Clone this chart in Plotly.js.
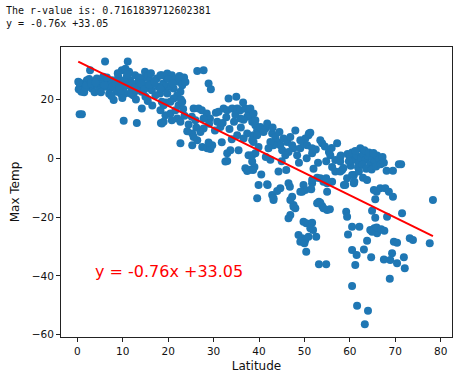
<!DOCTYPE html>
<html>
<head>
<meta charset="utf-8">
<script src="https://cdn.plot.ly/plotly-3.0.1.min.js"></script>
<style>
  html, body { margin: 0; padding: 0; background: #fff; }
  #chart { width: 474px; height: 379px; }
</style>
</head>
<body>
<div id="chart"></div>
<script>
// ---- data ----
const latitude = [
  // lat 0-20
  0.3,0.6,0.9,0.2,0.5,1.0,1.3,2.1,2.4,2.8,3.2,3.5,4.3,4.6,5.0,5.4,5.7,6.1,6.1,6.8,
  7.2,7.6,8.0,8.3,8.7,9.0,9.4,9.8,10.1,10.2,10.5,10.9,11.1,11.2,11.6,11.9,12.3,12.7,13.1,13.4,
  13.8,14.2,14.2,14.5,14.9,15.3,15.6,16.0,16.4,16.5,16.7,17.5,17.8,18.2,18.4,18.6,18.9,19.3,19.5,19.7,
  0.4,0.8,1.5,1.8,2.0,2.6,3.0,3.8,4.0,4.8,5.2,5.9,6.5,7.0,7.8,8.5,9.2,9.6,10.3,10.8,
  11.4,11.8,12.0,12.5,13.0,13.6,14.0,14.8,15.0,15.8,16.2,17.0,17.2,10.6,11.0,9.9,7.5,12.9,15.5,8.9,
  // lat 18-24
  18.3,19.8,20.8,21.6,22.3,23.1,22.7,22.0,21.2,20.5,19.0,18.3,19.4,20.5,21.6,22.3,23.1,21.2,20.1,19.0,
  18.3,19.8,18.6,22.0,22.7,20.8,19.0,18.6,20.0,21.0,22.5,23.5,23.8,22.8,23.3,23.6,
  // lat 22-31
  26.4,27.8,28.9,29.4,33.3,35.0,22.7,25.3,26.4,25.3,25.6,27.5,28.6,29.3,29.7,28.9,27.8,27.1,31.5,33.0,
  25.6,26.7,27.4,28.5,29.2,25.2,26.0,27.8,24.5,26.2,29.0,30.3,30.8,24.2,
  // lat 30-40
  31.1,32.2,33.0,34.1,35.2,35.9,37.0,37.7,38.1,37.4,36.6,35.9,38.5,39.2,39.6,38.8,38.5,37.4,36.6,35.2,
  35.5,33.7,32.6,33.0,37.7,38.5,38.1,37.0,37.4,32.0,33.5,34.5,34.0,36.0,31.8,34.8,36.5,32.8,30.5,
  // lat 38-58
  38.1,39.2,38.8,40.3,41.4,41.8,41.0,39.6,38.8,39.9,39.2,38.5,42.9,43.6,44.0,44.7,45.1,43.2,42.5,42.1,
  45.4,46.2,46.9,47.3,47.6,46.5,45.8,48.4,49.1,49.8,50.6,50.9,50.2,49.1,51.7,51.7,53.5,53.9,55.4,55.7,
  57.2,57.9,56.8,39.0,39.9,41.8,44.3,44.7,46.5,46.8,39.6,42.9,44.0,43.2,47.3,47.6,48.0,46.9,49.8,50.2,
  49.5,51.7,52.8,53.5,54.2,55.0,57.9,58.3,59.4,58.7,56.1,56.8,51.0,51.3,48.0,44.5,43.0,52.5,54.5,56.0,
  48.8,45.0,42.5,50.5,53.0,40.5,41.5,46.0,52.0,54.8,54.8,56.1,57.9,38.7,
  // lat 58-72 upper cluster
  62.3,58.0,58.6,70.8,68.1,69.5,60.9,60.9,62.9,63.8,59.0,71.3,
  59.5,60.0,60.5,61.0,61.5,62.0,62.5,63.0,63.5,64.0,64.5,65.0,65.5,66.0,66.5,60.2,61.8,62.8,63.6,64.8,
  65.8,66.8,67.2,59.8,61.2,63.2,64.2,65.2,67.5,62.0,
  // lower right
  78.3,77.6,71.5,73.2,73.9,69.7,70.4,69.3,67.5,68.9,70.4,71.9,72.1,68.8,60.5,61.6,64.0,63.3,60.5,61.5,
  61.2,63.1,64.7,63.8,59.6,60.5,62.1,64.5,65.4,66.0,64.9,65.9,66.9,67.6,68.2,65.6,64.9,65.3,65.9,66.7,
  67.8,68.6,69.5,65.6,60.9,60.5,61.0,59.2,59.4,55.0,55.6,53.5,53.9,54.2,55.0,53.2,54.8,49.8,50.4,51.7,
  51.3,51.9,48.7,49.5,50.2,49.1,50.0,50.9,50.4,52.6,46.5,47.6,46.9,49.1,51.5,51.7,53.2,52.8,41.9,43.2
];
const maxTemp = [
  // lat 0-20
  23.5,24.9,22.7,26.1,15.0,15.0,25.5,26.6,24.9,30.0,23.8,26.1,27.2,24.9,24.4,26.1,27.8,33.0,24.4,25.5,
  23.8,26.6,19.9,24.9,22.7,27.8,26.1,30.0,23.8,12.8,22.1,27.8,33.0,24.9,26.6,23.2,21.5,28.3,12.0,26.1,
  24.4,22.7,17.0,27.2,29.5,24.9,28.3,26.6,23.2,18.0,25.5,27.2,24.4,22.1,12.0,28.3,25.5,23.8,19.0,27.2,
  25.8,23.0,22.5,24.0,25.0,27.0,25.5,22.5,25.8,23.0,22.5,25.0,27.5,22.0,24.5,25.5,24.0,22.0,26.5,25.0,
  29.5,22.0,25.5,24.0,23.0,27.5,25.5,23.5,21.0,25.0,29.0,26.0,21.5,30.5,28.5,20.5,21.2,20.0,19.5,29.0,
  // lat 18-24
  28.3,28.9,28.3,27.2,26.1,24.9,22.7,21.5,20.4,19.3,18.1,16.4,14.7,15.3,16.4,18.1,19.3,23.8,24.4,24.9,
  23.8,22.1,19.3,13.6,12.5,13.0,12.5,11.9,27.0,25.5,28.0,27.5,26.0,20.0,16.8,14.5,
  // lat 22-31
  29.7,30.0,25.5,23.5,20.4,21.0,5.1,4.5,6.2,8.5,7.3,3.9,3.4,3.2,4.5,5.4,10.2,9.0,10.7,-0.9,
  17.0,17.0,16.4,15.3,13.6,14.2,13.0,13.6,11.5,10.5,11.8,9.5,12.5,9.2,
  // lat 30-40
  15.9,17.0,16.4,17.0,17.0,16.4,17.0,15.9,14.7,14.2,13.1,13.6,12.5,11.3,9.6,7.9,6.2,8.5,6.8,7.9,
  2.8,2.8,-1.1,1.7,1.1,-1.1,-3.9,-3.4,-4.3,12.0,10.0,12.5,6.5,10.5,5.5,14.8,19.0,14.0,15.5,
  // lat 38-58
  17.0,13.0,15.3,10.7,10.2,11.9,9.0,7.9,5.6,3.9,1.7,1.1,8.5,7.3,5.6,4.5,2.8,4.5,5.6,3.4,
  6.8,5.6,7.3,4.5,3.4,2.2,1.1,1.1,3.4,5.1,4.5,7.9,6.8,6.2,3.4,1.7,6.2,5.1,2.2,1.1,
  5.1,0.5,-0.6,-2.9,-9.1,-8.8,-4.5,-10.2,-8.5,-9.7,-13.6,-12.5,-11.1,-14.2,-13.1,-15.9,-17.0,-19.3,-9.1,-10.8,
  -11.4,-8.5,-6.6,-6.8,-8.0,-8.5,-1.1,-4.0,-6.8,-9.1,-2.9,-4.5,8.5,8.7,9.5,9.0,10.5,3.0,4.0,3.5,
  -1.5,-1.0,-0.5,0.0,-1.5,-5.5,0.5,-4.0,-3.5,-1.0,-6.8,-8.0,-4.5,-4.0,
  // lat 58-72 upper cluster
  3.4,1.0,-3.3,-2.0,-4.2,-4.2,-5.7,-8.3,-6.6,-7.4,-9.1,-2.0,
  1.5,0.5,2.0,-0.5,1.0,-1.5,0.0,1.5,-0.5,0.8,-2.0,0.0,-1.0,1.0,-0.3,-2.5,-3.0,-2.2,-3.5,-3.8,
  -2.8,-2.0,0.5,-1.0,2.5,2.8,2.0,1.8,-1.5,-4.5,
  // lower right
  -14.2,-28.9,-18.7,-27.2,-27.8,-28.4,-28.7,-32.3,-34.4,-34.6,-35.7,-33.7,-37.4,-41.0,-43.4,-50.2,-51.9,-56.5,-31.2,-32.9,
  -36.3,-31.0,-33.7,-28.0,-25.9,-23.3,-23.3,-24.4,-23.8,-25.5,-25.0,-23.5,-24.1,-24.6,-19.9,-20.2,-17.8,-10.8,-11.4,-10.2,
  -10.2,-11.4,-13.1,-13.9,-8.5,-5.7,-8.0,-18.2,-19.9,-17.6,-17.3,-15.1,-16.2,-17.0,-11.4,-36.0,-36.0,-21.6,-22.1,-21.9,
  -23.8,-24.4,-26.1,-27.2,-27.8,-28.4,-28.9,-26.7,-31.8,-26.7,-20.4,-16.5,-14.2,-11.4,-10.5,-7.4,-14.8,-15.3,-9.1,-13.6
];
const slope = -0.76;
const intercept = 33.05;
const rValue = "0.7161839712602381";
const lineLabel = "y = -0.76x +33.05";
const xTicks = [0, 10, 20, 30, 40, 50, 60, 70, 80];
const yTicks = [-60, -40, -20, 0, 20];
const xLabel = "Latitude";
const yLabel = "Max Temp";

// ---- regression line from slope/intercept over the data's x span ----
const n = Math.min(latitude.length, maxTemp.length);
const lats = latitude.slice(0, n), temps = maxTemp.slice(0, n);
const xMin = Math.min(...lats), xMax = Math.max(...lats);
const lineX = [xMin, xMax];
const lineY = lineX.map(x => slope * x + intercept);

const scatter = {
  type: 'scatter', mode: 'markers', x: lats, y: temps,
  marker: { color: '#1f77b4', size: 8, line: { width: 0 } },
  hoverinfo: 'skip', showlegend: false
};
const regLine = {
  type: 'scatter', mode: 'lines', x: lineX, y: lineY,
  line: { color: 'red', width: 2 }, hoverinfo: 'skip', showlegend: false
};

const axisCommon = {
  showgrid: false, zeroline: false, showline: true, mirror: true,
  linecolor: '#222', linewidth: 1, ticks: 'outside', ticklen: 4, tickwidth: 1, tickcolor: '#222',
  tickfont: { family: 'DejaVu Sans', size: 10.5, color: '#111' }
};

const layout = {
  width: 474, height: 379,
  margin: { l: 61, r: 22, t: 47, b: 42 },
  paper_bgcolor: '#fff', plot_bgcolor: '#fff',
  xaxis: Object.assign({}, axisCommon, {
    range: [-3.6, 82.5], tickvals: xTicks, ticktext: xTicks.map(String),
    title: { text: xLabel, font: { family: 'DejaVu Sans', size: 12, color: '#111' }, standoff: 6 }
  }),
  yaxis: Object.assign({}, axisCommon, {
    range: [-60.8, 37.9], tickvals: yTicks, ticktext: yTicks.map(v => v < 0 ? '\u2212' + Math.abs(v) : String(v)),
    title: { text: yLabel, font: { family: 'DejaVu Sans', size: 12, color: '#111' }, standoff: 9 }
  }),
  annotations: [
    { xref: 'x', yref: 'y', x: 4, y: -40, xanchor: 'left', yanchor: 'middle', xshift: -3, yshift: 4, showarrow: false,
      text: lineLabel, font: { family: 'DejaVu Sans', size: 16, color: 'red' } },
    { xref: 'paper', yref: 'paper', x: -0.145, y: 1 + 36 / 290, xanchor: 'left', yanchor: 'middle', showarrow: false,
      text: 'The r-value is: ' + rValue, font: { family: 'DejaVu Sans Mono', size: 10, color: '#111' } },
    { xref: 'paper', yref: 'paper', x: -0.145, y: 1 + 23 / 290, xanchor: 'left', yanchor: 'middle', showarrow: false,
      text: lineLabel, font: { family: 'DejaVu Sans Mono', size: 10, color: '#111' } }
  ]
};

Plotly.newPlot('chart', [scatter, regLine], layout, { staticPlot: true, displayModeBar: false });
</script>
</body>
</html>
